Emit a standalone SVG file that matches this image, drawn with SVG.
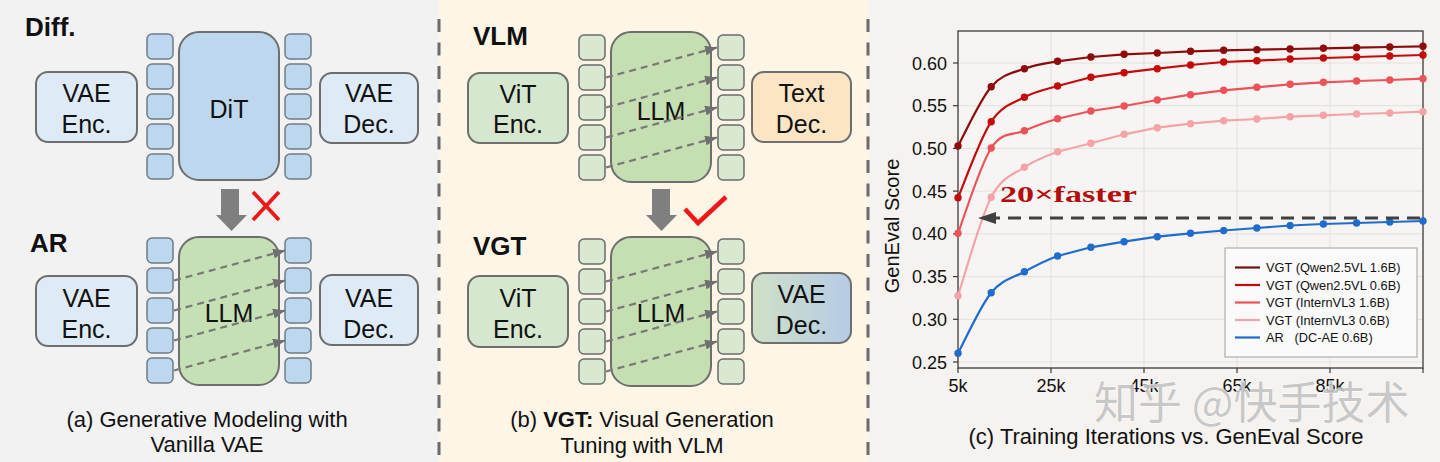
<svg xmlns="http://www.w3.org/2000/svg" width="1440" height="462" viewBox="0 0 1440 462">
<defs>
<style>
.s{font-family:"Liberation Sans",Arial,Helvetica,sans-serif;fill:#111}
.lb{font-size:25px;text-anchor:middle}
.tt{font-size:26px;font-weight:bold}
.cp{font-size:22px;text-anchor:middle}
.sqb{fill:#bdd7ee;stroke:#6f7c88;stroke-width:1.5}
.sqg{fill:#d8e8d1;stroke:#6b6b6b;stroke-width:1.5}
.bx{stroke:#6e6e6e;stroke-width:2}
.da{fill:none;stroke:#787878;stroke-width:2.2;stroke-dasharray:7 5;marker-end:url(#ah)}
.sep{stroke:#6b6b6b;stroke-width:3;stroke-dasharray:13 10.5}
.grid{stroke:#e3dfdb;stroke-width:1}
.tk{font-size:18px}
.ln{fill:none;stroke-width:2.2;stroke-linejoin:round}
.lg{font-size:12.8px}
.blk{fill:#7f7f7f}
</style>
<marker id="ah" viewBox="0 0 12 10" refX="12" refY="5" markerWidth="12" markerHeight="10" markerUnits="userSpaceOnUse" orient="auto"><path d="M0,0 L12,5 L0,10 z" fill="#6f6f6f"/></marker>
<marker id="m1" viewBox="0 0 10 10" refX="5" refY="5" markerWidth="8" markerHeight="8" markerUnits="userSpaceOnUse"><circle cx="5" cy="5" r="4.6" fill="#8e0b0b"/></marker>
<marker id="m2" viewBox="0 0 10 10" refX="5" refY="5" markerWidth="8" markerHeight="8" markerUnits="userSpaceOnUse"><circle cx="5" cy="5" r="4.6" fill="#c40a0a"/></marker>
<marker id="m3" viewBox="0 0 10 10" refX="5" refY="5" markerWidth="8" markerHeight="8" markerUnits="userSpaceOnUse"><circle cx="5" cy="5" r="4.6" fill="#ec5258"/></marker>
<marker id="m4" viewBox="0 0 10 10" refX="5" refY="5" markerWidth="8" markerHeight="8" markerUnits="userSpaceOnUse"><circle cx="5" cy="5" r="4.6" fill="#f4a4a7"/></marker>
<marker id="m5" viewBox="0 0 10 10" refX="5" refY="5" markerWidth="8" markerHeight="8" markerUnits="userSpaceOnUse"><circle cx="5" cy="5" r="4.6" fill="#1e6cce"/></marker>
<linearGradient id="gvd" x1="0" y1="0" x2="1" y2="0"><stop offset="0" stop-color="#cfe0c6"/><stop offset="1" stop-color="#b6cbe7"/></linearGradient>
</defs>

<!-- backgrounds -->
<rect x="0" y="0" width="439" height="462" fill="#f2f2f2"/>
<rect x="439" y="0" width="429" height="462" fill="#fdf5e6"/>
<rect x="868" y="0" width="572" height="462" fill="#f5f2ef"/>
<line class="sep" x1="439" y1="19" x2="439" y2="462"/>
<line class="sep" x1="868" y1="19" x2="868" y2="462"/>

<!-- Panel (a) -->
<g id="a-title-diff"><text class="s tt" x="25" y="36">Diff.</text></g>
<g id="a-vae-enc-top"><rect class="bx" x="36" y="72" width="101" height="70" rx="12" fill="#deebf7"/><text class="s lb" x="86.5" y="102">VAE</text><text class="s lb" x="86.5" y="133">Enc.</text></g>
<g id="a-tokens-in-top">
<rect class="sqb" x="147" y="34" width="26" height="25" rx="5"/><rect class="sqb" x="147" y="64" width="26" height="25" rx="5"/><rect class="sqb" x="147" y="94" width="26" height="25" rx="5"/><rect class="sqb" x="147" y="124" width="26" height="25" rx="5"/><rect class="sqb" x="147" y="154" width="26" height="25" rx="5"/>
</g>
<g id="a-dit"><rect class="bx" x="179" y="32" width="100" height="148" rx="20" fill="#bdd7ee"/><text class="s lb" x="229" y="118">DiT</text></g>
<g id="a-tokens-out-top">
<rect class="sqb" x="285" y="34" width="26" height="25" rx="5"/><rect class="sqb" x="285" y="64" width="26" height="25" rx="5"/><rect class="sqb" x="285" y="94" width="26" height="25" rx="5"/><rect class="sqb" x="285" y="124" width="26" height="25" rx="5"/><rect class="sqb" x="285" y="154" width="26" height="25" rx="5"/>
</g>
<g id="a-vae-dec-top"><rect class="bx" x="320" y="73" width="98" height="70" rx="12" fill="#deebf7"/><text class="s lb" x="369" y="102">VAE</text><text class="s lb" x="369" y="133">Dec.</text></g>
<g id="a-cross"><path d="M253,192 L279,220 M279,192 L253,220" stroke="#f01616" stroke-width="3.8" fill="none"/></g>

<g id="a-title-ar"><text class="s tt" x="30" y="252">AR</text></g>
<g id="a-vae-enc-bot"><rect class="bx" x="36" y="276" width="101" height="70" rx="12" fill="#deebf7"/><text class="s lb" x="86.5" y="307">VAE</text><text class="s lb" x="86.5" y="338">Enc.</text></g>
<g id="a-tokens-in-bot">
<rect class="sqb" x="147" y="238" width="26" height="25" rx="5"/><rect class="sqb" x="147" y="268" width="26" height="25" rx="5"/><rect class="sqb" x="147" y="298" width="26" height="25" rx="5"/><rect class="sqb" x="147" y="328" width="26" height="25" rx="5"/><rect class="sqb" x="147" y="358" width="26" height="25" rx="5"/>
</g>
<g id="a-llm"><rect class="bx" x="179" y="237" width="100" height="148" rx="20" fill="#c5e0b4"/><text class="s lb" x="229" y="322">LLM</text></g>
<g id="a-tokens-out-bot">
<rect class="sqb" x="285" y="238" width="26" height="25" rx="5"/><rect class="sqb" x="285" y="268" width="26" height="25" rx="5"/><rect class="sqb" x="285" y="298" width="26" height="25" rx="5"/><rect class="sqb" x="285" y="328" width="26" height="25" rx="5"/><rect class="sqb" x="285" y="358" width="26" height="25" rx="5"/>
</g>
<g id="a-vae-dec-bot"><rect class="bx" x="320" y="275" width="98" height="70" rx="12" fill="#deebf7"/><text class="s lb" x="369" y="307">VAE</text><text class="s lb" x="369" y="338">Dec.</text></g>
<g id="a-caption"><text class="s cp" x="207" y="427">(a) Generative Modeling with</text><text class="s cp" x="207" y="452">Vanilla VAE</text></g>

<!-- Panel (b) -->
<g id="b-title-vlm"><text class="s tt" x="473" y="45">VLM</text></g>
<g id="b-vit-enc-top"><rect class="bx" x="468" y="73" width="100" height="70" rx="12" fill="#d6e7cf"/><text class="s lb" x="518" y="103">ViT</text><text class="s lb" x="518" y="133">Enc.</text></g>
<g id="b-tokens-in-top">
<rect class="sqg" x="579" y="35" width="26" height="25" rx="5"/><rect class="sqg" x="579" y="65" width="26" height="25" rx="5"/><rect class="sqg" x="579" y="95" width="26" height="25" rx="5"/><rect class="sqg" x="579" y="125" width="26" height="25" rx="5"/><rect class="sqg" x="579" y="155" width="26" height="25" rx="5"/>
</g>
<g id="b-llm-top"><rect class="bx" x="611" y="32" width="100" height="150" rx="20" fill="#c5deb2"/><text class="s lb" x="661" y="120">LLM</text></g>
<g id="b-tokens-out-top">
<rect class="sqg" x="718" y="35" width="26" height="25" rx="5"/><rect class="sqg" x="718" y="65" width="26" height="25" rx="5"/><rect class="sqg" x="718" y="95" width="26" height="25" rx="5"/><rect class="sqg" x="718" y="125" width="26" height="25" rx="5"/><rect class="sqg" x="718" y="155" width="26" height="25" rx="5"/>
</g>
<g id="b-text-dec"><rect class="bx" x="752" y="72" width="99" height="70" rx="12" fill="#fbe5c4"/><text class="s lb" x="801.5" y="102">Text</text><text class="s lb" x="801.5" y="133">Dec.</text></g>
<g id="b-check"><path d="M685,209 L698,223 L726,197" stroke="#f01616" stroke-width="4.5" fill="none"/></g>

<g id="b-title-vgt"><text class="s tt" x="473" y="255">VGT</text></g>
<g id="b-vit-enc-bot"><rect class="bx" x="468" y="276" width="100" height="71" rx="12" fill="#d6e7cf"/><text class="s lb" x="518" y="307">ViT</text><text class="s lb" x="518" y="338">Enc.</text></g>
<g id="b-tokens-in-bot">
<rect class="sqg" x="579" y="239" width="26" height="25" rx="5"/><rect class="sqg" x="579" y="269" width="26" height="25" rx="5"/><rect class="sqg" x="579" y="299" width="26" height="25" rx="5"/><rect class="sqg" x="579" y="329" width="26" height="25" rx="5"/><rect class="sqg" x="579" y="359" width="26" height="25" rx="5"/>
</g>
<g id="b-llm-bot"><rect class="bx" x="611" y="237" width="100" height="149" rx="20" fill="#c5deb2"/><text class="s lb" x="661" y="322">LLM</text></g>
<g id="b-tokens-out-bot">
<rect class="sqg" x="718" y="239" width="26" height="25" rx="5"/><rect class="sqg" x="718" y="269" width="26" height="25" rx="5"/><rect class="sqg" x="718" y="299" width="26" height="25" rx="5"/><rect class="sqg" x="718" y="329" width="26" height="25" rx="5"/><rect class="sqg" x="718" y="359" width="26" height="25" rx="5"/>
</g>
<g id="b-vae-dec"><rect class="bx" x="752" y="273" width="99" height="70" rx="12" fill="url(#gvd)"/><text class="s lb" x="801.5" y="303">VAE</text><text class="s lb" x="801.5" y="334">Dec.</text></g>
<g id="b-caption"><text class="s cp" x="642" y="427">(b) <tspan font-weight="bold">VGT:</tspan> Visual Generation</text><text class="s cp" x="642" y="453">Tuning with VLM</text></g>

<!-- connectors -->
<g id="connectors">
<path class="blk" d="M221,189 H239 V215 H247 L231.5,231 L216,215 H221 Z"/>
<path class="blk" d="M652,189 H670 V215 H677 L661.5,231 L646,215 H652 Z"/>
<line class="da" x1="174" y1="280.5" x2="285" y2="250.5"/>
<line class="da" x1="174" y1="310.5" x2="285" y2="280.5"/>
<line class="da" x1="174" y1="340.5" x2="285" y2="310.5"/>
<line class="da" x1="174" y1="370.5" x2="285" y2="340.5"/>
<line class="da" x1="606" y1="77.5" x2="717" y2="47.5"/>
<line class="da" x1="606" y1="107.5" x2="717" y2="77.5"/>
<line class="da" x1="606" y1="137.5" x2="717" y2="107.5"/>
<line class="da" x1="606" y1="167.5" x2="717" y2="137.5"/>
<line class="da" x1="606" y1="281.5" x2="717" y2="251.5"/>
<line class="da" x1="606" y1="311.5" x2="717" y2="281.5"/>
<line class="da" x1="606" y1="341.5" x2="717" y2="311.5"/>
<line class="da" x1="606" y1="371.5" x2="717" y2="341.5"/>
</g>

<!-- Panel (c) chart -->
<g id="chart">
<rect x="958" y="31" width="465" height="337" fill="#f7f5f3"/>
<g id="grid">
<line class="grid" x1="958" y1="319.3" x2="1423" y2="319.3"/>
<line class="grid" x1="958" y1="276.6" x2="1423" y2="276.6"/>
<line class="grid" x1="958" y1="233.9" x2="1423" y2="233.9"/>
<line class="grid" x1="958" y1="191.1" x2="1423" y2="191.1"/>
<line class="grid" x1="958" y1="148.4" x2="1423" y2="148.4"/>
<line class="grid" x1="958" y1="105.7" x2="1423" y2="105.7"/>
<line class="grid" x1="958" y1="63" x2="1423" y2="63"/>
<line class="grid" x1="958" y1="362" x2="1423" y2="362"/>
<line class="grid" x1="1051" y1="31" x2="1051" y2="368"/>
<line class="grid" x1="1144" y1="31" x2="1144" y2="368"/>
<line class="grid" x1="1237" y1="31" x2="1237" y2="368"/>
<line class="grid" x1="1330" y1="31" x2="1330" y2="368"/>
</g>
<rect x="958" y="31" width="465" height="337" fill="none" stroke="#3a3a3a" stroke-width="1.3"/>
<g id="yticks" stroke="#3a3a3a" stroke-width="1.2">
<line x1="953" y1="362" x2="958" y2="362"/><line x1="953" y1="319.3" x2="958" y2="319.3"/><line x1="953" y1="276.6" x2="958" y2="276.6"/><line x1="953" y1="233.9" x2="958" y2="233.9"/><line x1="953" y1="191.1" x2="958" y2="191.1"/><line x1="953" y1="148.4" x2="958" y2="148.4"/><line x1="953" y1="105.7" x2="958" y2="105.7"/><line x1="953" y1="63" x2="958" y2="63"/>
<line x1="958" y1="368" x2="958" y2="373"/><line x1="1051" y1="368" x2="1051" y2="373"/><line x1="1144" y1="368" x2="1144" y2="373"/><line x1="1237" y1="368" x2="1237" y2="373"/><line x1="1330" y1="368" x2="1330" y2="373"/><line x1="1423" y1="368" x2="1423" y2="373"/>
</g>
<g id="ylabels" text-anchor="end">
<text class="s tk" x="947" y="368.5">0.25</text>
<text class="s tk" x="947" y="325.8">0.30</text>
<text class="s tk" x="947" y="283.1">0.35</text>
<text class="s tk" x="947" y="240.4">0.40</text>
<text class="s tk" x="947" y="197.6">0.45</text>
<text class="s tk" x="947" y="154.9">0.50</text>
<text class="s tk" x="947" y="112.2">0.55</text>
<text class="s tk" x="947" y="69.5">0.60</text>
</g>
<g id="xlabels" text-anchor="middle">
<text class="s tk" x="958" y="392">5k</text>
<text class="s tk" x="1051" y="392">25k</text>
<text class="s tk" x="1144" y="392">45k</text>
<text class="s tk" x="1237" y="392">65k</text>
<text class="s tk" x="1330" y="392">85k</text>
</g>
<text class="s" font-size="20" text-anchor="middle" transform="translate(899,226) rotate(-90)">GenEval Score</text>

<g id="series">
<path class="ln" stroke="#8e0b0b" marker-start="url(#m1)" marker-mid="url(#m1)" marker-end="url(#m1)" d="M958,146 C963.5,136.1 980.1,99.6 991.2,86.7 C1002.3,73.8 1013.3,72.9 1024.4,68.7 C1035.5,64.5 1046.5,63.25 1057.6,61.3 L1090.9,57 L1124.1,54.3 L1157.3,53 L1190.5,51.3 L1223.7,50.3 L1256.9,49.7 L1290.1,49 L1323.4,48.3 L1356.6,47.7 L1389.8,47 L1423,46.3"/>
<path class="ln" stroke="#c40a0a" marker-start="url(#m2)" marker-mid="url(#m2)" marker-end="url(#m2)" d="M958,197.7 C963.5,185 980.1,138.4 991.2,121.7 C1002.3,105 1013.3,103.25 1024.4,97.3 C1035.5,91.35 1046.5,89.33 1057.6,86 L1090.9,77.3 L1124.1,72.7 L1157.3,68.7 L1190.5,65 L1223.7,62 L1256.9,60.7 L1290.1,59 L1323.4,58 L1356.6,57 L1389.8,56 L1423,55"/>
<path class="ln" stroke="#ec5258" marker-start="url(#m3)" marker-mid="url(#m3)" marker-end="url(#m3)" d="M958,233.3 C963.5,219.1 980.1,165.1 991.2,148 C1002.3,130.9 1013.3,135.6 1024.4,130.7 C1035.5,125.8 1046.5,122 1057.6,118.7 L1090.9,111 L1124.1,106 L1157.3,100 L1190.5,94.7 L1223.7,90.3 L1256.9,87.3 L1290.1,84.3 L1323.4,82.3 L1356.6,81 L1389.8,80 L1423,78.7"/>
<path class="ln" stroke="#f4a4a7" marker-start="url(#m4)" marker-mid="url(#m4)" marker-end="url(#m4)" d="M958,295.7 C963.5,279.3 980.1,218.7 991.2,197.3 C1002.3,175.9 1013.3,174.9 1024.4,167.3 C1035.5,159.7 1046.5,155.7 1057.6,151.7 L1090.9,143.3 L1124.1,134.3 L1157.3,127.7 L1190.5,123.7 L1223.7,120.7 L1256.9,119 L1290.1,116.7 L1323.4,115.3 L1356.6,114 L1389.8,113 L1423,111.7"/>
<path class="ln" stroke="#1e6cce" marker-start="url(#m5)" marker-mid="url(#m5)" marker-end="url(#m5)" d="M958,353.3 C963.5,343.2 980.1,306.3 991.2,292.7 C1002.3,279.1 1013.3,277.8 1024.4,271.7 C1035.5,265.6 1046.5,260.1 1057.6,256 L1090.9,247.3 L1124.1,241.7 L1157.3,236.7 L1190.5,233.3 L1223.7,230.5 L1256.9,228 L1290.1,225.5 L1323.4,224 L1356.6,223 L1389.8,222 L1423,221"/>
</g>

<g id="speedup">
<line x1="1420" y1="218" x2="994" y2="218" stroke="#404040" stroke-width="3" stroke-dasharray="13 8"/>
<path d="M978,218 L996,212 L996,224 Z" fill="#404040"/>
<text x="1000" y="202" font-family="'Liberation Serif','Times New Roman',serif" font-weight="bold" font-size="24" fill="#b30d0d" textLength="137" lengthAdjust="spacingAndGlyphs">20×faster</text>
</g>

<g id="legend">
<rect x="1225" y="248" width="192" height="109" fill="#fafafa" stroke="#a0a0a0" stroke-width="1"/>
<line x1="1235" y1="267.5" x2="1260" y2="267.5" stroke="#6e1010" stroke-width="2.2"/>
<line x1="1235" y1="285" x2="1260" y2="285" stroke="#c40a0a" stroke-width="2.2"/>
<line x1="1235" y1="302.5" x2="1260" y2="302.5" stroke="#ec5258" stroke-width="2.2"/>
<line x1="1235" y1="320" x2="1260" y2="320" stroke="#f4a4a7" stroke-width="2.2"/>
<line x1="1235" y1="337.5" x2="1260" y2="337.5" stroke="#1e6cce" stroke-width="2.2"/>
<text class="s lg" x="1266" y="272">VGT (Qwen2.5VL 1.6B)</text>
<text class="s lg" x="1266" y="289.5">VGT (Qwen2.5VL 0.6B)</text>
<text class="s lg" x="1266" y="307">VGT (InternVL3 1.6B)</text>
<text class="s lg" x="1266" y="324.5">VGT (InternVL3 0.6B)</text>
<text class="s lg" x="1266" y="342" xml:space="preserve">AR   (DC-AE 0.6B)</text>
</g>

<text x="1094" y="419" font-family="'Noto Sans CJK SC','Noto Sans CJK JP',sans-serif" font-size="44" fill="#c4c4c4" stroke="#ffffff" stroke-width="1.2" paint-order="stroke" opacity="0.9">知乎 @快手技术</text>

<g id="c-caption"><text class="s cp" x="1166" y="444">(c) Training Iterations vs. GenEval Score</text></g>
</g>
</svg>
